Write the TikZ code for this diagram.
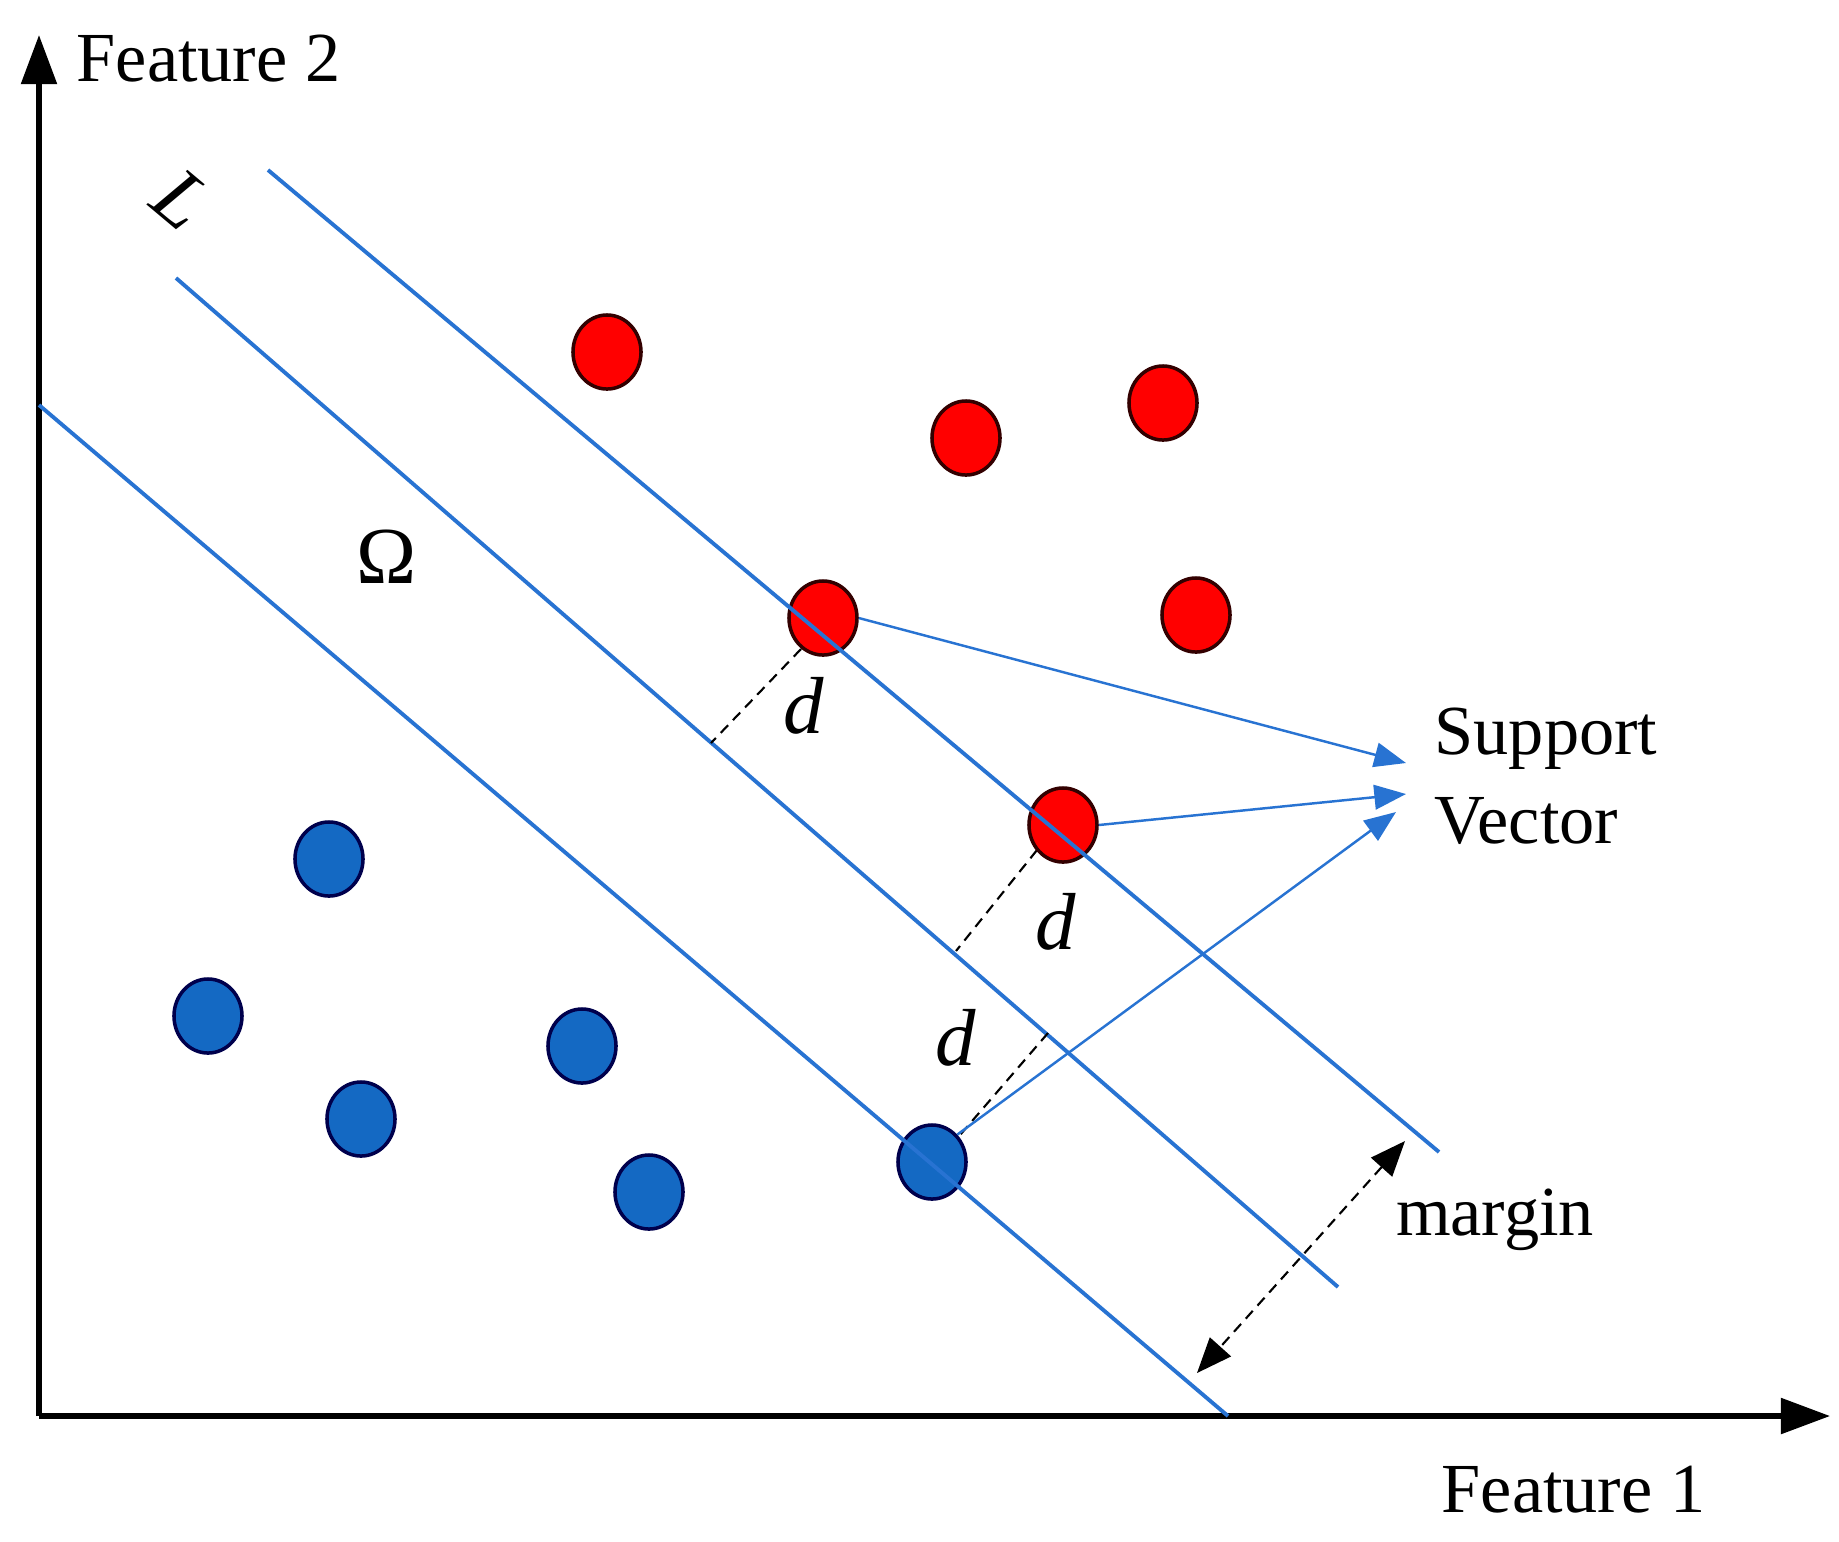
\documentclass[tikz,border=0pt]{standalone}
\usepackage{fontspec}
\setmainfont{Liberation Serif}
\usetikzlibrary{arrows.meta,shapes.geometric}
\definecolor{lblue}{RGB}{40,115,210}
\definecolor{pblue}{RGB}{20,105,195}
\begin{document}
\begin{tikzpicture}[x=0.01cm,y=-0.01cm,
  axis/.style={line width=1.5pt,-{Triangle[length=14pt,width=10pt]}},
  hyper/.style={lblue,line width=1.1pt},
  redpt/.style={ellipse,draw=black!80!red,line width=1pt,fill=red,minimum width=0.68cm,minimum height=0.74cm,inner sep=0pt},
  bluept/.style={ellipse,draw=black!70!blue,line width=1pt,fill=pblue,minimum width=0.68cm,minimum height=0.74cm,inner sep=0pt},
  svarrow/.style={lblue,line width=0.7pt,-{Triangle[length=9pt,width=7pt]}},
  dline/.style={dashed,line width=0.6pt,dash pattern=on 3pt off 2pt},
  lbl/.style={font=\fontsize{20}{24}\selectfont,inner sep=0pt},
  dlbl/.style={font=\fontsize{23}{26}\selectfont\itshape,inner sep=0pt}]
\useasboundingbox (0,0) rectangle (1839,1541);
\coordinate (O) at (39,1416);
\coordinate (Y) at (39,35);
\coordinate (X) at (1830,1416);
\draw[axis] (O) -- (Y);
\draw[axis] (O) -- (X);
\coordinate (u1) at (268,170); \coordinate (u2) at (1439,1152);
\coordinate (m1) at (176,278); \coordinate (m2) at (1338,1287);
\coordinate (l1) at (39,405); \coordinate (l2) at (1228,1416);
\draw[hyper] (m1) -- (m2);
\coordinate (d1a) at (801,649); \coordinate (d1b) at (711,743);
\coordinate (d2a) at (1037,850); \coordinate (d2b) at (956,951);
\coordinate (d3a) at (1048,1033); \coordinate (d3b) at (960,1135);
\draw[dline] (d1a) -- (d1b);
\draw[dline] (d2a) -- (d2b);
\draw[dline] (d3a) -- (d3b);
\node[redpt] (r1) at (607,352) {};
\node[redpt] (r2) at (966,438) {};
\node[redpt] (r3) at (1163,403) {};
\node[redpt] (r4) at (823,618) {};
\node[redpt] (r5) at (1196,615) {};
\node[redpt] (r6) at (1063,825) {};
\node[bluept] (b1) at (329,859) {};
\node[bluept] (b2) at (208,1016) {};
\node[bluept] (b3) at (361,1119) {};
\node[bluept] (b4) at (582,1046) {};
\node[bluept] (b5) at (649,1192) {};
\node[bluept] (b6) at (932,1162) {};
\draw[hyper] (u1) -- (u2);
\draw[hyper] (l1) -- (l2);
\node[lbl,anchor=west] (sv1) at (1434,739) {Support};
\node[lbl,anchor=west] (sv2) at (1434,821) {Vector};
\coordinate (t1) at (1406,763); \coordinate (t2) at (1406,794); \coordinate (t3) at (1396,812);
\draw[svarrow] (r4.east) -- (t1);
\draw[svarrow] (r6.east) -- (t2);
\draw[svarrow] (b6.north east) -- (t3);
\coordinate (ma) at (1405,1141); \coordinate (mb) at (1197,1373);
\draw[dline,{Triangle[length=10pt,width=8pt]}-{Triangle[length=10pt,width=8pt]}] (ma) -- (mb);
\node[lbl] (mg) at (1495,1220) {margin};
\node[dlbl] (dl1) at (804,706) {d};
\node[dlbl] (dl2) at (1056,922) {d};
\node[dlbl] (dl3) at (956,1038) {d};
\node[dlbl,rotate=-40] (L) at (182,200) {L};
\node[lbl,font=\fontsize{23}{26}\selectfont] (om) at (387,557) {Ω};
\node[lbl,anchor=west] (f2) at (76,59) {Feature 2};
\node[lbl,anchor=west] (f1) at (1441,1490) {Feature 1};
\end{tikzpicture}
\end{document}
